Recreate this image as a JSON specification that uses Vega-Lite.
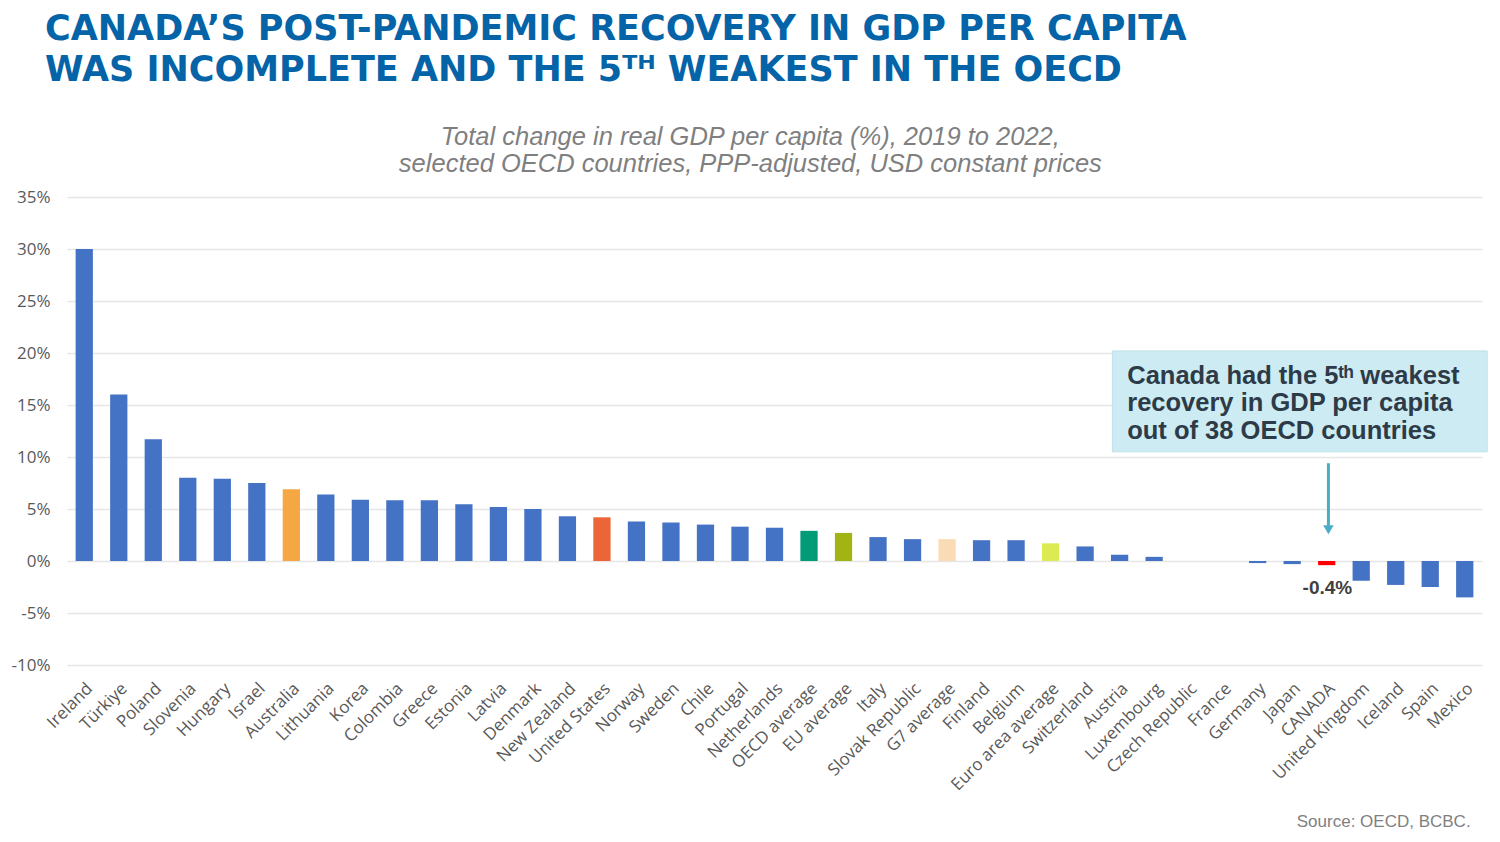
{
  "$schema": "https://vega.github.io/schema/vega-lite/v6.json",
  "description": "Total change in real GDP per capita, 2019 to 2022, selected OECD countries",
  "width": 1415,
  "height": 468,
  "autosize": {"type": "none"},
  "padding": {"left": 67, "top": 197, "right": 18, "bottom": 177},
  "background": "white",
  "title": {
    "text": ["CANADA’S POST-PANDEMIC RECOVERY IN GDP PER CAPITA", "WAS INCOMPLETE AND THE 5ᵀᴴ WEAKEST IN THE OECD"],
    "anchor": "start",
    "frame": "group",
    "font": "DejaVu Sans",
    "fontSize": 35,
    "fontWeight": "bold",
    "color": "#0563A8",
    "lineHeight": 41,
    "offset": 37,
    "dx": -22
  },
  "config": {
    "view": {"stroke": null},
    "axisY": {
      "values": [-10, -5, 0, 5, 10, 15, 20, 25, 30, 35],
      "labelExpr": "datum.value + '%'",
      "labelFont": "Open Sans",
      "labelFontSize": 17,
      "labelColor": "#595959",
      "labelPadding": 17,
      "ticks": false,
      "domain": false,
      "gridColor": "#E6E6E6",
      "gridWidth": 1.5
    }
  },
  "resolve": {"scale": {"x": "independent"}},
  "layer": [
    {
      "data": {
        "values": [
          {"c": "Ireland", "v": 30.0, "g": "country"},
          {"c": "Türkiye", "v": 16.0, "g": "country"},
          {"c": "Poland", "v": 11.7, "g": "country"},
          {"c": "Slovenia", "v": 8.0, "g": "country"},
          {"c": "Hungary", "v": 7.9, "g": "country"},
          {"c": "Israel", "v": 7.5, "g": "country"},
          {"c": "Australia", "v": 6.9, "g": "australia"},
          {"c": "Lithuania", "v": 6.4, "g": "country"},
          {"c": "Korea", "v": 5.9, "g": "country"},
          {"c": "Colombia", "v": 5.85, "g": "country"},
          {"c": "Greece", "v": 5.85, "g": "country"},
          {"c": "Estonia", "v": 5.45, "g": "country"},
          {"c": "Latvia", "v": 5.2, "g": "country"},
          {"c": "Denmark", "v": 5.0, "g": "country"},
          {"c": "New Zealand", "v": 4.3, "g": "country"},
          {"c": "United States", "v": 4.2, "g": "us"},
          {"c": "Norway", "v": 3.8, "g": "country"},
          {"c": "Sweden", "v": 3.7, "g": "country"},
          {"c": "Chile", "v": 3.5, "g": "country"},
          {"c": "Portugal", "v": 3.3, "g": "country"},
          {"c": "Netherlands", "v": 3.2, "g": "country"},
          {"c": "OECD average", "v": 2.9, "g": "oecd"},
          {"c": "EU average", "v": 2.7, "g": "eu"},
          {"c": "Italy", "v": 2.3, "g": "country"},
          {"c": "Slovak Republic", "v": 2.1, "g": "country"},
          {"c": "G7 average", "v": 2.1, "g": "g7"},
          {"c": "Finland", "v": 2.0, "g": "country"},
          {"c": "Belgium", "v": 2.0, "g": "country"},
          {"c": "Euro area average", "v": 1.7, "g": "euro"},
          {"c": "Switzerland", "v": 1.4, "g": "country"},
          {"c": "Austria", "v": 0.6, "g": "country"},
          {"c": "Luxembourg", "v": 0.4, "g": "country"},
          {"c": "Czech Republic", "v": 0.0, "g": "country"},
          {"c": "France", "v": 0.0, "g": "country"},
          {"c": "Germany", "v": -0.2, "g": "country"},
          {"c": "Japan", "v": -0.3, "g": "country"},
          {"c": "CANADA", "v": -0.4, "g": "canada"},
          {"c": "United Kingdom", "v": -1.9, "g": "country"},
          {"c": "Iceland", "v": -2.3, "g": "country"},
          {"c": "Spain", "v": -2.5, "g": "country"},
          {"c": "Mexico", "v": -3.5, "g": "country"}
        ]
      },
      "mark": {"type": "bar"},
      "encoding": {
        "x": {
          "field": "c",
          "type": "nominal",
          "sort": null,
          "scale": {"paddingInner": 0.5, "paddingOuter": 0.25},
          "axis": {
            "title": null,
            "labelAngle": -45,
            "labelFont": "Open Sans",
            "labelFontSize": 17,
            "labelColor": "#595959",
            "labelPadding": 15,
            "labelOverlap": false,
            "ticks": false,
            "domain": false
          }
        },
        "y": {
          "field": "v",
          "type": "quantitative",
          "scale": {"domain": [-10, 35], "nice": false, "zero": false},
          "axis": {"title": null}
        },
        "color": {
          "field": "g",
          "type": "nominal",
          "legend": null,
          "scale": {
            "domain": ["country", "australia", "us", "oecd", "eu", "g7", "euro", "canada"],
            "range": ["#4472C4", "#F4A742", "#EB6536", "#009B77", "#A2B413", "#F9DBB5", "#DCEB52", "#FF0000"]
          }
        }
      }
    },
    {
      "data": {"values": [{"x1": 30.29, "x2": 41.15, "v": 10.5, "v2": 20.2}]},
      "mark": {"type": "rect", "color": "#CDEBF2", "stroke": "#BFE0EA", "strokeWidth": 1},
      "encoding": {
        "x": {"field": "x1", "type": "quantitative", "scale": {"domain": [0, 41], "nice": false, "zero": false}, "axis": null},
        "x2": {"field": "x2"},
        "y": {"field": "v", "type": "quantitative", "scale": {"domain": [-10, 35], "nice": false, "zero": false}},
        "y2": {"field": "v2"}
      }
    },
    {
      "data": {"values": [{"x": 30.72, "v": 17.8, "t": ["Canada had the 5ᵗʰ weakest", "recovery in GDP per capita", "out of 38 OECD countries"]}]},
      "mark": {"type": "text", "align": "left", "baseline": "middle", "font": "Liberation Sans", "fontWeight": "bold", "fontSize": 25.5, "lineHeight": 27.5, "color": "#2D3B48"},
      "encoding": {
        "x": {"field": "x", "type": "quantitative", "scale": {"domain": [0, 41], "nice": false, "zero": false}, "axis": null},
        "y": {"field": "v", "type": "quantitative", "scale": {"domain": [-10, 35], "nice": false, "zero": false}},
        "text": {"field": "t"}
      }
    },
    {
      "data": {"values": [{"x": 36.55, "v": 9.4, "v2": 3.4}]},
      "mark": {"type": "rule", "color": "#4BACC6", "strokeWidth": 3},
      "encoding": {
        "x": {"field": "x", "type": "quantitative", "scale": {"domain": [0, 41], "nice": false, "zero": false}, "axis": null},
        "y": {"field": "v", "type": "quantitative", "scale": {"domain": [-10, 35], "nice": false, "zero": false}},
        "y2": {"field": "v2"}
      }
    },
    {
      "data": {"values": [{"x": 36.55, "v": 3.0}]},
      "mark": {"type": "point", "shape": "triangle-down", "filled": true, "color": "#4BACC6", "size": 110, "opacity": 1},
      "encoding": {
        "x": {"field": "x", "type": "quantitative", "scale": {"domain": [0, 41], "nice": false, "zero": false}, "axis": null},
        "y": {"field": "v", "type": "quantitative", "scale": {"domain": [-10, 35], "nice": false, "zero": false}}
      }
    },
    {
      "data": {"values": [{"x": 36.52, "v": -2.6, "t": "-0.4%"}]},
      "mark": {"type": "text", "align": "center", "baseline": "middle", "font": "Liberation Sans", "fontWeight": "bold", "fontSize": 19, "color": "#404040"},
      "encoding": {
        "x": {"field": "x", "type": "quantitative", "scale": {"domain": [0, 41], "nice": false, "zero": false}, "axis": null},
        "y": {"field": "v", "type": "quantitative", "scale": {"domain": [-10, 35], "nice": false, "zero": false}},
        "text": {"field": "t"}
      }
    },
    {
      "data": {"values": [{"x": 19.8, "v": 40.8, "t": ["Total change in real GDP per capita (%), 2019 to 2022,", "selected OECD countries, PPP-adjusted, USD constant prices"]}]},
      "mark": {"type": "text", "align": "center", "baseline": "middle", "font": "Liberation Sans", "fontStyle": "italic", "fontSize": 25.5, "lineHeight": 27, "color": "#7F7F7F"},
      "encoding": {
        "x": {"field": "x", "type": "quantitative", "scale": {"domain": [0, 41], "nice": false, "zero": false}, "axis": null},
        "y": {"field": "v", "type": "quantitative", "scale": {"domain": [-10, 35], "nice": false, "zero": false}},
        "text": {"field": "t"}
      }
    },
    {
      "data": {"values": [{"x": 40.67, "v": -25.1, "t": "Source: OECD, BCBC."}]},
      "mark": {"type": "text", "align": "right", "baseline": "middle", "font": "Liberation Sans", "fontSize": 17, "color": "#7F7F7F"},
      "encoding": {
        "x": {"field": "x", "type": "quantitative", "scale": {"domain": [0, 41], "nice": false, "zero": false}, "axis": null},
        "y": {"field": "v", "type": "quantitative", "scale": {"domain": [-10, 35], "nice": false, "zero": false}},
        "text": {"field": "t"}
      }
    }
  ]
}
